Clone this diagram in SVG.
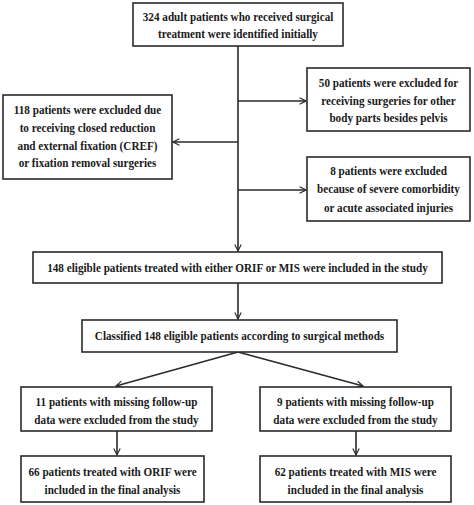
<svg xmlns="http://www.w3.org/2000/svg" width="474" height="505" viewBox="0 0 474 505">
<defs>
<style>
.box{fill:#fff;stroke:#2a2a2a;stroke-width:1.6}
.t{font-family:"Liberation Serif","Times New Roman",serif;font-weight:bold;font-size:13px;fill:#1a1a1a;text-anchor:middle;transform-box:fill-box;transform-origin:center;transform:scaleX(0.86)}
.c{fill:none;stroke:#2a2a2a;stroke-width:1.6}
</style>
<marker id="ah" viewBox="0 0 10 10" refX="9" refY="5" markerWidth="8" markerHeight="8" markerUnits="userSpaceOnUse" orient="auto">
<path d="M1,1 L9,5 L1,9" fill="none" stroke="#2a2a2a" stroke-width="1.4"/>
</marker>
</defs>
<rect width="474" height="505" fill="#fff"/>
<g id="connectors">
<line class="c" x1="238" y1="46" x2="238" y2="251" marker-end="url(#ah)"/>
<line class="c" x1="238" y1="101" x2="306" y2="101" marker-end="url(#ah)"/>
<line class="c" x1="238" y1="142" x2="173" y2="142" marker-end="url(#ah)"/>
<line class="c" x1="238" y1="190" x2="306" y2="190" marker-end="url(#ah)"/>
<line class="c" x1="238" y1="283" x2="238" y2="319" marker-end="url(#ah)"/>
<line class="c" x1="238" y1="352" x2="116" y2="386" marker-end="url(#ah)"/>
<line class="c" x1="238" y1="352" x2="363" y2="386" marker-end="url(#ah)"/>
<line class="c" x1="117" y1="431" x2="117" y2="455" marker-end="url(#ah)"/>
<line class="c" x1="356" y1="431" x2="356" y2="455" marker-end="url(#ah)"/>
</g>
<g id="n1"><rect class="box" x="133" y="3" width="210" height="43"/>
<text class="t" x="238" y="21">324 adult patients who received surgical</text>
<text class="t" x="238" y="38">treatment were identified initially</text></g>
<g id="n2"><rect class="box" x="307" y="68" width="163" height="63"/>
<text class="t" x="388.5" y="87">50 patients were excluded for</text>
<text class="t" x="388.5" y="105">receiving surgeries for other</text>
<text class="t" x="388.5" y="122">body parts besides pelvis</text></g>
<g id="n3"><rect class="box" x="3" y="95" width="169" height="84"/>
<text class="t" x="87.5" y="114">118 patients were excluded due</text>
<text class="t" x="87.5" y="132">to receiving closed reduction</text>
<text class="t" x="87.5" y="150">and external fixation (CREF)</text>
<text class="t" x="87.5" y="167">or fixation removal surgeries</text></g>
<g id="n4"><rect class="box" x="307" y="157" width="163" height="64"/>
<text class="t" x="388.5" y="175">8 patients were excluded</text>
<text class="t" x="388.5" y="193">because of severe comorbidity</text>
<text class="t" x="388.5" y="212">or acute associated injuries</text></g>
<g id="n5"><rect class="box" x="33" y="252" width="409" height="31"/>
<text class="t" x="237.5" y="272">148 eligible patients treated with either ORIF or MIS were included in the study</text></g>
<g id="n6"><rect class="box" x="82" y="320" width="315" height="32"/>
<text class="t" x="239.5" y="340">Classified 148 eligible patients according to surgical methods</text></g>
<g id="n7"><rect class="box" x="21" y="387" width="191" height="44"/>
<text class="t" x="116.5" y="406">11 patients with missing follow-up</text>
<text class="t" x="116.5" y="424">data were excluded from the study</text></g>
<g id="n8"><rect class="box" x="260" y="387" width="191" height="44"/>
<text class="t" x="355.5" y="406">9 patients with missing follow-up</text>
<text class="t" x="355.5" y="424">data were excluded from the study</text></g>
<g id="n9"><rect class="box" x="21" y="456" width="183" height="46"/>
<text class="t" x="112.5" y="476">66 patients treated with ORIF were</text>
<text class="t" x="112.5" y="494">included in the final analysis</text></g>
<g id="n10"><rect class="box" x="260" y="456" width="191" height="46"/>
<text class="t" x="355.5" y="476">62 patients treated with MIS were</text>
<text class="t" x="355.5" y="494">included in the final analysis</text></g>
</svg>
